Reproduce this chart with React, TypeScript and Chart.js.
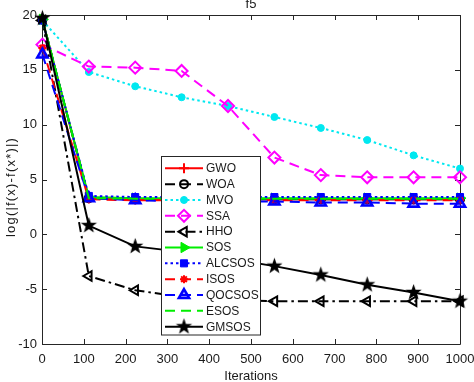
import React, { useEffect, useRef } from 'react';
import { Chart, registerables } from 'chart.js';
import { drawPoint } from 'chart.js/helpers';

Chart.register(...registerables);

// ---------- data ----------
const ITERATIONS = [1, 112, 223, 334, 445, 556, 667, 778, 889, 1000];

const GWO = [19.6, 3.3, 3.2, 3.2, 3.2, 3.2, 3.2, 3.2, 3.2, 3.2];
const WOA = [19.6, 3.3, 3.2, 3.2, 3.2, 3.2, 3.2, 3.2, 3.2, 3.2];
const MVO = [19.5, 14.8, 13.5, 12.5, 11.7, 10.7, 9.7, 8.6, 7.2, 6.0];
const SSA = [17.3, 15.3, 15.2, 14.9, 11.7, 7.0, 5.4, 5.2, 5.2, 5.2];
const HHO = [19.5, -3.8, -5.1, -5.7, -6.0, -6.1, -6.1, -6.1, -6.1, -6.1];
const SOS = [19.6, 3.4, 3.3, 3.3, 3.3, 3.3, 3.3, 3.3, 3.3, 3.3];
const ALCSOS = [19.5, 3.5, 3.4, 3.4, 3.4, 3.4, 3.4, 3.4, 3.4, 3.4];
const ISOS = [17.0, 3.2, 3.1, 3.1, 3.1, 3.1, 3.1, 3.1, 3.1, 3.1];
const QOCSOS = [16.4, 3.3, 3.1, 3.0, 3.0, 3.0, 2.9, 2.9, 2.8, 2.8];
const ESOS = [19.6, 3.3, 3.25, 3.25, 3.25, 3.25, 3.25, 3.25, 3.25, 3.25];
const GMSOS = [19.7, 0.8, -1.1, -1.6, -2.2, -2.9, -3.7, -4.6, -5.3, -6.1];

const SERIES_NAMES = ['GWO', 'WOA', 'MVO', 'SSA', 'HHO', 'SOS', 'ALCSOS', 'ISOS', 'QOCSOS', 'ESOS', 'GMSOS'];
const SERIES_VALUES = [GWO, WOA, MVO, SSA, HHO, SOS, ALCSOS, ISOS, QOCSOS, ESOS, GMSOS];

const TITLE = 'f5';
const X_TITLE = 'Iterations';
const Y_TITLE = 'log(|f(x)-f(x*)|)';
const X_MIN = 0, X_MAX = 1000, X_STEP = 100;
const Y_MIN = -10, Y_MAX = 20, Y_STEP = 5;

// ---------- styles ----------
const FONT = '"Liberation Sans", Arial, Helvetica, sans-serif';
const TEXT_COLOR = '#1a1a1a';

function makeStar(r: number, color: string): HTMLCanvasElement {
  const c = document.createElement('canvas');
  const s = Math.ceil(r * 2 + 2);
  c.width = s;
  c.height = s;
  const ctx = c.getContext('2d')!;
  ctx.beginPath();
  for (let i = 0; i < 10; i++) {
    const rad = i % 2 === 0 ? r : r * 0.4;
    const a = -Math.PI / 2 + (i * Math.PI) / 5;
    const px = s / 2 + rad * Math.cos(a);
    const py = s / 2 + rad * Math.sin(a);
    if (i === 0) ctx.moveTo(px, py);
    else ctx.lineTo(px, py);
  }
  ctx.closePath();
  ctx.fillStyle = color;
  ctx.fill();
  return c;
}

type Style = {
  color: string;
  dash: number[];
  pointStyle: any;
  radius: number;
  fill: string;
  borderWidth: number;
  rotation: number;
};

const DASHED = [10, 6];
const DOTTED = [2.5, 3];
const DASHDOT = [10, 4, 2.5, 4];

function styles(): Style[] {
  const star = makeStar(8.5, '#000000');
  return [
    { color: '#ff0000', dash: [], pointStyle: 'cross', radius: 5, fill: '#ff0000', borderWidth: 2, rotation: 0 },
    { color: '#000000', dash: DASHED, pointStyle: 'circle', radius: 4, fill: 'rgba(0,0,0,0)', borderWidth: 2, rotation: 0 },
    { color: '#00e8f0', dash: DOTTED, pointStyle: 'circle', radius: 3.5, fill: '#00e8f0', borderWidth: 1, rotation: 0 },
    { color: '#ff00ff', dash: DASHED, pointStyle: 'rectRot', radius: 6, fill: 'rgba(0,0,0,0)', borderWidth: 2, rotation: 0 },
    { color: '#000000', dash: DASHDOT, pointStyle: 'triangle', radius: 5.5, fill: 'rgba(0,0,0,0)', borderWidth: 2, rotation: -90 },
    { color: '#00ee00', dash: [], pointStyle: 'triangle', radius: 6, fill: '#00ee00', borderWidth: 1, rotation: 90 },
    { color: '#0000ff', dash: DOTTED, pointStyle: 'rect', radius: 5, fill: '#0000ff', borderWidth: 1, rotation: 0 },
    { color: '#ff0000', dash: DASHED, pointStyle: 'star', radius: 4, fill: '#ff0000', borderWidth: 2, rotation: 0 },
    { color: '#0000ff', dash: DASHED, pointStyle: 'triangle', radius: 6, fill: 'rgba(0,0,255,0.35)', borderWidth: 2.5, rotation: 0 },
    { color: '#00ee00', dash: DASHED, pointStyle: false, radius: 0, fill: '#00ee00', borderWidth: 0, rotation: 0 },
    { color: '#000000', dash: [], pointStyle: star, radius: 8.5, fill: '#000000', borderWidth: 0, rotation: 0 },
  ];
}

const BOX_COLOR = '#262626';
const TICK_LEN = 5;

function makeFramePlugin() {
  return {
    id: 'matlabFrame',
    beforeDatasetsDraw(chart: any) {
      const { ctx, chartArea } = chart;
      const { left, right, top, bottom } = chartArea;
      const xs = chart.scales.x;
      const ys = chart.scales.y;
      ctx.save();
      ctx.strokeStyle = BOX_COLOR;
      ctx.lineWidth = 1;
      ctx.setLineDash([]);
      ctx.beginPath();
      ctx.rect(Math.round(left) + 0.5, Math.round(top) + 0.5, Math.round(right - left), Math.round(bottom - top));
      ctx.stroke();
      ctx.beginPath();
      for (let v = X_MIN; v <= X_MAX; v += X_STEP) {
        const px = Math.round(xs.getPixelForValue(v)) + 0.5;
        ctx.moveTo(px, bottom);
        ctx.lineTo(px, bottom - TICK_LEN);
        ctx.moveTo(px, top);
        ctx.lineTo(px, top + TICK_LEN);
      }
      for (let v = Y_MIN; v <= Y_MAX; v += Y_STEP) {
        const py = Math.round(ys.getPixelForValue(v)) + 0.5;
        ctx.moveTo(left, py);
        ctx.lineTo(left + TICK_LEN, py);
        ctx.moveTo(right, py);
        ctx.lineTo(right - TICK_LEN, py);
      }
      ctx.stroke();
      // plot title, centred over the axes box
      ctx.fillStyle = TEXT_COLOR;
      ctx.font = `13px ${FONT}`;
      ctx.textAlign = 'center';
      ctx.textBaseline = 'middle';
      ctx.fillText(TITLE, (left + right) / 2, 4.5);
      // y-axis title
      (ctx as any).letterSpacing = '1.2px';
      ctx.translate(11, 187);
      ctx.rotate(-Math.PI / 2);
      ctx.fillText(Y_TITLE, 0, 0);
      ctx.restore();
    },
  };
}

function makeLegendPlugin(st: Style[]) {
  return {
    id: 'matlabLegend',
    afterDatasetsDraw(chart: any) {
      const { ctx } = chart;
      const bx = 161.5, by = 156.5, bw = 99, bh = 178.5;
      ctx.save();
      ctx.fillStyle = '#ffffff';
      ctx.fillRect(bx, by, bw, bh);
      ctx.strokeStyle = BOX_COLOR;
      ctx.lineWidth = 1;
      ctx.setLineDash([]);
      ctx.strokeRect(bx, by, bw, bh);
      const y0 = 168.3;
      const dy = 15.84;
      SERIES_NAMES.forEach((name, i) => {
        const s = st[i];
        const y = y0 + i * dy;
        ctx.save();
        ctx.strokeStyle = s.color;
        ctx.lineWidth = 2;
        ctx.setLineDash(s.dash);
        ctx.beginPath();
        ctx.moveTo(165, y);
        ctx.lineTo(203, y);
        ctx.stroke();
        ctx.restore();
        if (s.pointStyle !== false && s.radius > 0) {
          ctx.save();
          ctx.setLineDash([]);
          ctx.strokeStyle = s.color;
          ctx.fillStyle = s.fill;
          ctx.lineWidth = s.borderWidth;
          drawPoint(ctx, { pointStyle: s.pointStyle, rotation: s.rotation, radius: s.radius, borderWidth: s.borderWidth } as any, 184, y);
          ctx.restore();
        }
        ctx.fillStyle = TEXT_COLOR;
        ctx.font = `12px ${FONT}`;
        ctx.textAlign = 'left';
        ctx.textBaseline = 'middle';
        ctx.fillText(name, 206, y + 0.5);
      });
      ctx.restore();
    },
  };
}

export default function App() {
  const ref = useRef<HTMLCanvasElement | null>(null);

  useEffect(() => {
    if (!ref.current) return;
    const st = styles();
    const n = SERIES_NAMES.length;
    const datasets = SERIES_NAMES.map((name, i) => ({
      label: name,
      data: ITERATIONS.map((x, j) => ({ x, y: SERIES_VALUES[i][j] })),
      borderColor: st[i].color,
      backgroundColor: st[i].fill,
      borderWidth: 2,
      borderDash: st[i].dash,
      pointStyle: st[i].pointStyle,
      pointRadius: st[i].radius,
      pointRotation: st[i].rotation,
      pointBorderColor: st[i].color,
      pointBackgroundColor: st[i].fill,
      pointBorderWidth: st[i].borderWidth,
      tension: 0,
      fill: false,
      clip: false as any,
      order: n - i,
    }));

    const chart = new Chart(ref.current, {
      type: 'line',
      data: { datasets },
      options: {
        responsive: false,
        animation: false,
        devicePixelRatio: 1,
        layout: { autoPadding: false, padding: { left: 0, right: 14, top: 15, bottom: 0 } },
        plugins: {
          legend: { display: false },
          tooltip: { enabled: false },
          title: { display: false },
        },
        scales: {
          x: {
            type: 'linear',
            min: X_MIN,
            max: X_MAX,
            grid: { display: false, drawTicks: false },
            border: { display: false },
            ticks: {
              stepSize: X_STEP,
              padding: 8,
              color: TEXT_COLOR,
              font: { family: FONT, size: 13 },
              maxRotation: 0,
              autoSkip: false,
              callback: (v: any) => String(v),
            },
            title: {
              display: true,
              text: X_TITLE,
              color: TEXT_COLOR,
              font: { family: FONT, size: 13, lineHeight: 1 },
              padding: { top: 0, bottom: -1 },
            },
            afterFit(scale: any) {
              scale.height = 38;
              scale.paddingLeft = 0;
              scale.paddingRight = 0;
              scale.paddingTop = 0;
              scale.paddingBottom = 0;
            },
          },
          y: {
            type: 'linear',
            min: Y_MIN,
            max: Y_MAX,
            grid: { display: false, drawTicks: false },
            border: { display: false },
            ticks: {
              stepSize: Y_STEP,
              padding: 5,
              color: TEXT_COLOR,
              font: { family: FONT, size: 13 },
              autoSkip: false,
              callback: (v: any) => String(v),
            },
            afterFit(scale: any) {
              scale.width = 42;
              scale.paddingLeft = 0;
              scale.paddingRight = 0;
              scale.paddingTop = 0;
              scale.paddingBottom = 0;
            },
          },
        },
      },
      plugins: [makeFramePlugin(), makeLegendPlugin(st)],
    });
    return () => chart.destroy();
  }, []);

  return (
    <div style={{ position: 'absolute', left: 0, top: 0, width: 474, height: 382, background: '#ffffff' }}>
      <canvas ref={ref} width={474} height={382} style={{ display: 'block', width: 474, height: 382 }} />
    </div>
  );
}
